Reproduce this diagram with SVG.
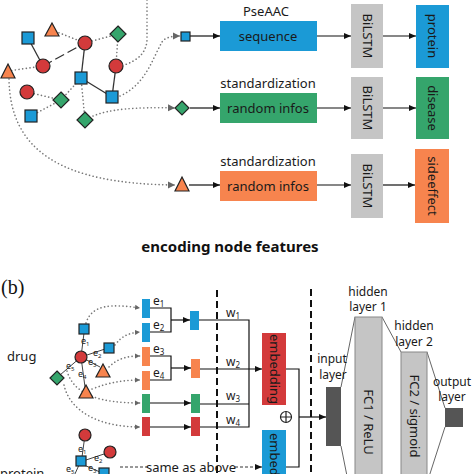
<svg xmlns="http://www.w3.org/2000/svg" width="474" height="474" viewBox="0 0 474 474">
<defs>
<style>
text{font-family:"Noto Sans","Open Sans","Liberation Sans",sans-serif;fill:#1a1a1a}
.blue{fill:#1B9AD6}.green{fill:#35A56C}.orange{fill:#F7844E}.red{fill:#D33A3B}.gbox{fill:#C5C5C5}
.nd{stroke:#222;stroke-width:1.2}
.sl{stroke:#333;stroke-width:1.3;fill:none}
.dot{stroke:#777;stroke-width:1.6;fill:none;stroke-dasharray:0.1 3.6;stroke-linecap:round}
.ar{stroke:#111;stroke-width:1.2;fill:none}
.t13{font-size:13px}
.nn{font-size:12px;text-anchor:middle}
.dash{stroke:#111;stroke-width:2;stroke-dasharray:7 4;fill:none}
</style>
<marker id="ah" markerUnits="userSpaceOnUse" markerWidth="8" markerHeight="8" refX="7" refY="4" orient="auto"><path d="M0,1 L7,4 L0,7 z" fill="#111"/></marker>
<marker id="gh" markerUnits="userSpaceOnUse" markerWidth="8" markerHeight="8" refX="7" refY="4" orient="auto"><path d="M0,0.5 L7,4 L0,7.5 z" fill="#666"/></marker>
<marker id="sh" markerUnits="userSpaceOnUse" markerWidth="6" markerHeight="6" refX="5" refY="3" orient="auto"><path d="M0,0.5 L5,3 L0,5.5 z" fill="#666"/></marker>
</defs>

<g id="connectors">
<line class="sl" x1="28" y1="38" x2="43" y2="66"/>
<line class="sl" x1="43" y1="66" x2="85" y2="43" stroke-dasharray="10 4"/>
<line class="sl" x1="85" y1="43" x2="81" y2="78"/>
<line class="sl" x1="81" y1="78" x2="112" y2="97"/>
<line class="sl" x1="116" y1="66" x2="112" y2="97"/>
<line class="dot" x1="52" y1="30" x2="85" y2="43"/>
<line class="dot" x1="85" y1="43" x2="118" y2="34"/>
<line class="dot" x1="118" y1="34" x2="116" y2="66"/>
<line class="dot" x1="8" y1="71" x2="43" y2="66"/>
<line class="dot" x1="27" y1="92" x2="61" y2="100"/>
<line class="dot" x1="61" y1="100" x2="81" y2="78"/>
<line class="dot" x1="31" y1="116" x2="61" y2="100"/>
<line class="dot" x1="81" y1="78" x2="85" y2="120"/>
<path class="dot" d="M147,0 L147,40 Q146,58 124,65"/>
<path class="dot" d="M120,96 C145,85 152,60 162,42 Q166,36 180,36" marker-end="url(#gh)"/>
<path class="dot" d="M93,116 C110,109 135,107 175,108" marker-end="url(#gh)"/>
<path class="dot" d="M9,79 C10,150 60,184 175,185" marker-end="url(#gh)"/>
<line class="ar" x1="190" y1="36" x2="220" y2="36" marker-end="url(#ah)"/>
<line class="ar" x1="317" y1="36" x2="351" y2="36" marker-end="url(#ah)"/>
<line class="ar" x1="373" y1="36" x2="416" y2="36" marker-end="url(#ah)"/>
<line class="ar" x1="190" y1="108" x2="220" y2="108" marker-end="url(#ah)"/>
<line class="ar" x1="317" y1="108" x2="351" y2="108" marker-end="url(#ah)"/>
<line class="ar" x1="373" y1="108" x2="416" y2="108" marker-end="url(#ah)"/>
<line class="ar" x1="189" y1="185" x2="220" y2="185" marker-end="url(#ah)"/>
<line class="ar" x1="317" y1="185" x2="351" y2="185" marker-end="url(#ah)"/>
<line class="ar" x1="383" y1="185" x2="415" y2="185" marker-end="url(#ah)"/>
<g stroke="#444" stroke-width="1">
<line x1="81" y1="357" x2="84" y2="333"/>
<line x1="81" y1="357" x2="105" y2="349"/>
<line x1="81" y1="357" x2="100" y2="367"/>
<line x1="81" y1="357" x2="85" y2="387"/>
<line x1="81" y1="357" x2="60" y2="375"/>
<line x1="85" y1="435" x2="82" y2="457"/>
<line x1="110" y1="452" x2="86" y2="460"/>
<line x1="84" y1="465" x2="100" y2="472"/>
<line x1="79" y1="465" x2="74" y2="476"/>
</g>
<path class="dot" d="M86,323 C92,304 112,304 140,308" marker-end="url(#sh)"/>
<path class="dot" d="M115,345 C122,336 128,333 140,332" marker-end="url(#sh)"/>
<path class="dot" d="M109,367 C118,358 128,356 140,356" marker-end="url(#sh)"/>
<path class="dot" d="M92,389 C110,382 125,380 140,380" marker-end="url(#sh)"/>
<path class="dot" d="M67,371 C74,395 100,403 140,403" marker-end="url(#sh)"/>
<path class="dot" d="M64,385 C70,412 100,427 140,427" marker-end="url(#sh)"/>
<path class="ar" d="M150,308 H171 V332 H150"/>
<line class="ar" x1="171" y1="320" x2="190" y2="320" marker-end="url(#ah)"/>
<path class="ar" d="M150,356 H171 V380 H150"/>
<line class="ar" x1="171" y1="368" x2="191" y2="368" marker-end="url(#ah)"/>
<line class="ar" x1="150" y1="403" x2="191" y2="403" marker-end="url(#ah)"/>
<line class="ar" x1="150" y1="427" x2="191" y2="427" marker-end="url(#ah)"/>
<path class="ar" d="M199,320 H249 V427 H200"/>
<line class="ar" x1="200" y1="404" x2="249" y2="404"/>
<line class="ar" x1="200" y1="369" x2="262" y2="369" marker-end="url(#ah)"/>
<path class="ar" d="M286,369 H299 V467 H286"/>
<line class="ar" x1="299" y1="417" x2="326" y2="417" marker-end="url(#ah)"/>
<line x1="120" y1="467" x2="148" y2="467" stroke="#333" stroke-width="1" stroke-dasharray="3 2"/>
<line x1="235" y1="467" x2="262" y2="467" stroke="#333" stroke-width="1" stroke-dasharray="3 2" marker-end="url(#ah)"/>
<line class="dash" x1="217" y1="290" x2="217" y2="474"/>
<line class="dash" x1="311" y1="289" x2="311" y2="474"/>
<g stroke="#666" stroke-width="1">
<line x1="341" y1="387" x2="355" y2="317"/>
<line x1="341" y1="446" x2="355" y2="516"/>
<line x1="382" y1="317" x2="401" y2="352"/>
<line x1="427" y1="352" x2="445" y2="408"/>
<line x1="445" y1="427" x2="427" y2="483"/>
</g>
</g>

<g id="graph-nodes" class="nd">
<rect class="blue" x="22" y="32" width="12" height="12"/>
<path class="orange" d="M52,23 L59,36 L45,36 z"/>
<circle class="red" cx="85" cy="43" r="7"/>
<path class="green" d="M118,26 L126,34 L118,42 L110,34 z"/>
<circle class="red" cx="43" cy="66" r="7"/>
<path class="orange" d="M8,64 L15,78 L1,78 z"/>
<rect class="blue" x="75" y="72" width="12" height="12"/>
<circle class="red" cx="116" cy="66" r="7"/>
<circle class="red" cx="27" cy="92" r="7"/>
<path class="green" d="M61,92 L69,100 L61,108 L53,100 z"/>
<rect class="blue" x="106" y="91" width="12" height="12"/>
<rect class="blue" x="25" y="110" width="12" height="12"/>
<path class="green" d="M85,112 L93,120 L85,128 L77,120 z"/>
</g>

<g id="row-protein">
<rect class="blue nd" x="181" y="32" width="9" height="9"/>
<text class="t13" x="266" y="16" text-anchor="middle">PseAAC</text>
<rect class="blue" x="220" y="21" width="97" height="30"/>
<text class="t13" x="268" y="41" text-anchor="middle">sequence</text>
<rect class="gbox" x="351" y="4" width="32" height="64"/>
<text class="t13" transform="translate(367,36) rotate(90)" text-anchor="middle" dy="4.5">BiLSTM</text>
<rect class="blue" x="416" y="5" width="33" height="63"/>
<text class="t13" transform="translate(432,36) rotate(90)" text-anchor="middle" dy="4.5">protein</text>
</g>
<g id="row-disease">
<path class="green nd" d="M182,101 L189,108 L182,115 L175,108 z"/>
<text class="t13" x="268" y="88" text-anchor="middle">standardization</text>
<rect class="green" x="220" y="93" width="97" height="30"/>
<text class="t13" x="268" y="113" text-anchor="middle">random infos</text>
<rect class="gbox" x="351" y="77" width="32" height="62"/>
<text class="t13" transform="translate(367,108) rotate(90)" text-anchor="middle" dy="4.5">BiLSTM</text>
<rect class="green" x="416" y="77" width="33" height="62"/>
<text class="t13" transform="translate(432,108) rotate(90)" text-anchor="middle" dy="4.5">disease</text>
</g>
<g id="row-sideeffect">
<path class="orange nd" d="M182,177 L189,191 L175,191 z"/>
<text class="t13" x="268" y="166" text-anchor="middle">standardization</text>
<rect class="orange" x="220" y="171" width="97" height="30"/>
<text class="t13" x="268" y="191" text-anchor="middle">random infos</text>
<rect class="gbox" x="351" y="154" width="32" height="64"/>
<text class="t13" transform="translate(367,186) rotate(90)" text-anchor="middle" dy="4.5">BiLSTM</text>
<rect class="orange" x="415" y="149" width="34" height="74"/>
<text class="t13" transform="translate(432,186) rotate(90)" text-anchor="middle" dy="4.5">sideeffect</text>
</g>

<g id="title-a">
<text x="230" y="252" text-anchor="middle" font-size="15" font-weight="bold" style="fill:#111">encoding node features</text>
</g>

<g id="label-b">
<text x="1" y="294" font-size="20" style="font-family:'Liberation Serif','DejaVu Serif',serif;fill:#111">(b)</text>
<text x="7" y="361" class="t13">drug</text>
<text x="0" y="478" class="t13">protein</text>
</g>

<g id="drug-molecule">
<rect class="blue nd" x="79" y="324" width="10" height="10"/>
<rect class="blue nd" x="104" y="343" width="10" height="10"/>
<path class="orange nd" d="M103,364 L110,377 L96,377 z"/>
<path class="orange nd" d="M86,385 L93,398 L79,398 z"/>
<path class="green nd" d="M57,371 L64,378 L57,385 L50,378 z"/>
<circle class="red nd" cx="81" cy="357" r="6"/>
<g font-size="9">
<text x="81" y="344">e<tspan font-size="6" dy="2">1</tspan></text>
<text x="93" y="356">e<tspan font-size="6" dy="2">2</tspan></text>
<text x="88" y="365">e<tspan font-size="6" dy="2">3</tspan></text>
<text x="78" y="377">e<tspan font-size="6" dy="2">4</tspan></text>
<text x="66" y="369">e<tspan font-size="6" dy="2">5</tspan></text>
</g>
</g>

<g id="protein-molecule">
<circle class="red nd" cx="85" cy="435" r="6"/>
<circle class="red nd" cx="110" cy="452" r="6"/>
<rect class="blue nd" x="76" y="456" width="10" height="10"/>
<rect class="blue nd" x="99" y="468" width="10" height="10"/>
<g font-size="9">
<text x="78" y="452">e<tspan font-size="6" dy="2">1</tspan></text>
<text x="94" y="461">e<tspan font-size="6" dy="2">2</tspan></text>
<text x="88" y="471">e<tspan font-size="6" dy="2">3</tspan></text>
<text x="66" y="472">e<tspan font-size="6" dy="2">5</tspan></text>
</g>
</g>

<g id="bars">
<rect class="blue" x="142" y="299" width="8" height="19"/>
<rect class="blue" x="142" y="323" width="8" height="19"/>
<rect class="orange" x="142" y="347" width="8" height="19"/>
<rect class="orange" x="142" y="371" width="8" height="19"/>
<rect class="green" x="142" y="394" width="8" height="19"/>
<rect class="red" x="142" y="417" width="8" height="19"/>
<rect class="blue" x="190" y="311" width="9" height="19"/>
<rect class="orange" x="191" y="359" width="9" height="19"/>
<rect class="green" x="191" y="394" width="9" height="19"/>
<rect class="red" x="191" y="417" width="9" height="19"/>
<g font-size="12">
<text x="153" y="305">e<tspan font-size="8" dy="2">1</tspan></text>
<text x="153" y="329">e<tspan font-size="8" dy="2">2</tspan></text>
<text x="153" y="353">e<tspan font-size="8" dy="2">3</tspan></text>
<text x="153" y="377">e<tspan font-size="8" dy="2">4</tspan></text>
<text x="226" y="317">w<tspan font-size="8" dy="2">1</tspan></text>
<text x="226" y="366">w<tspan font-size="8" dy="2">2</tspan></text>
<text x="226" y="400">w<tspan font-size="8" dy="2">3</tspan></text>
<text x="226" y="424">w<tspan font-size="8" dy="2">4</tspan></text>
</g>
</g>

<g id="same-as-above">
<text x="191" y="472" class="t13" text-anchor="middle">same as above</text>
</g>

<g id="embedding">
<rect class="red" x="262" y="333" width="24" height="72"/>
<text class="t13" transform="translate(274,369) rotate(90)" text-anchor="middle" dy="4.5">embedding</text>
<rect class="blue" x="262" y="430" width="24" height="50"/>
<text class="t13" transform="translate(274,433) rotate(90)" dy="4.5">embedding</text>
<circle cx="286" cy="417" r="5.5" fill="#fff" stroke="#222" stroke-width="1.2"/>
<path d="M280.5,417 H291.5 M286,411.5 V422.5" stroke="#222" stroke-width="1.2"/>
</g>

<g id="nn">
<rect x="326" y="387" width="15" height="59" fill="#555"/>
<rect x="355" y="317" width="27" height="200" fill="#C5C5C5" stroke="#888" stroke-width="1"/>
<rect x="401" y="352" width="26" height="170" fill="#C5C5C5" stroke="#888" stroke-width="1"/>
<rect x="445" y="408" width="18" height="19" fill="#555"/>
<text class="nn" x="332" y="363">input</text>
<text class="nn" x="333" y="379">layer</text>
<text class="nn" x="368" y="296">hidden</text>
<text class="nn" x="368" y="311">layer 1</text>
<text class="nn" x="414" y="330">hidden</text>
<text class="nn" x="414" y="346">layer 2</text>
<text class="nn" x="452" y="386">output</text>
<text class="nn" x="452" y="401">layer</text>
<text class="t13" transform="translate(368,422) rotate(90)" text-anchor="middle" dy="4.5">FC1 / ReLU</text>
<text class="t13" transform="translate(414,416) rotate(90)" text-anchor="middle" dy="4.5">FC2 / sigmoid</text>
</g>
</svg>
